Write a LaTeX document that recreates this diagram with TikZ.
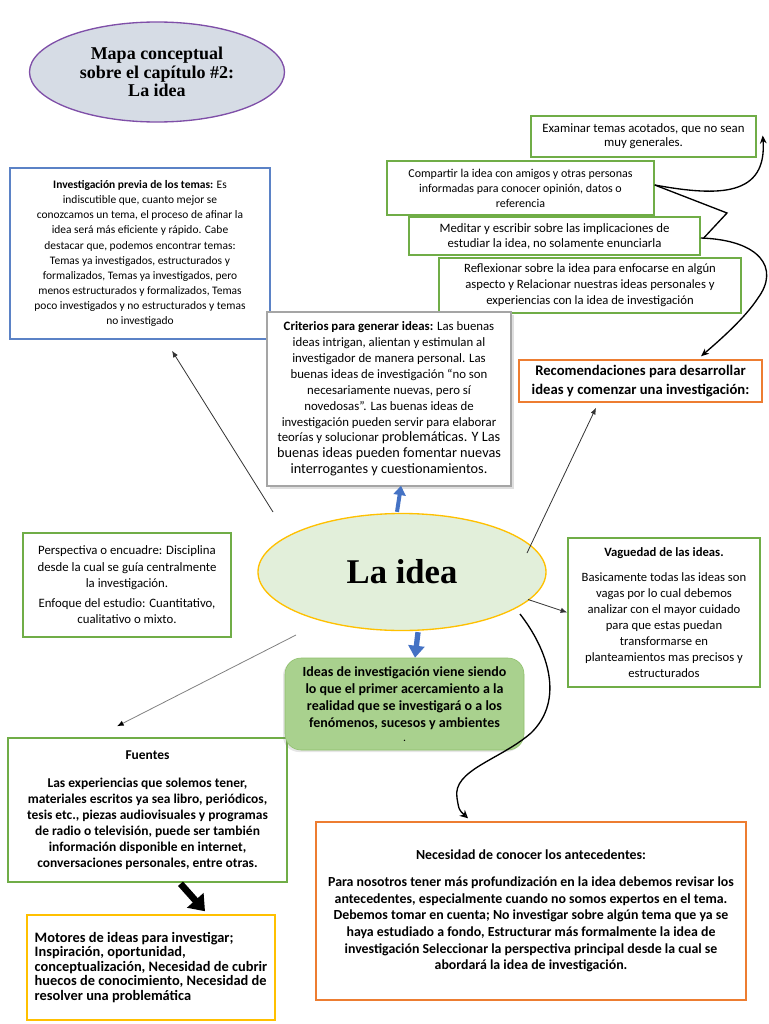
\documentclass[tikz,border=0pt]{standalone}
\usepackage{fontspec}
\setmainfont{Carlito}
\newfontfamily\serifbold{Liberation Serif}
\usepackage{xcolor}
\usetikzlibrary{arrows.meta,positioning,shapes.geometric,shadows}

\definecolor{bordgreen}{HTML}{70AD47}
\definecolor{bordblue}{HTML}{5B82C6}
\definecolor{bordgray}{HTML}{A5A5A5}
\definecolor{bordorange}{HTML}{ED7D31}
\definecolor{bordyellow}{HTML}{FFC000}
\definecolor{titlefill}{HTML}{D6DCE5}
\definecolor{titleedge}{HTML}{7F4FA8}
\definecolor{ideafill}{HTML}{E2EFDA}
\definecolor{leaffill}{HTML}{A9D18E}
\definecolor{leafedge}{HTML}{8DBF6A}
\definecolor{arrowblue}{HTML}{4472C4}

\begin{document}
\begin{tikzpicture}[
  x=0.75pt, y=-0.75pt,
  size/.style 2 args={minimum width=#1*0.75pt, minimum height=#2*0.75pt},
  card/.style={rectangle, draw, line width=1.1pt, fill=white, align=center,
               inner sep=2pt, font=\fontsize{9.5}{11.3}\selectfont},
  greencard/.style={card, draw=bordgreen},
  orangecard/.style={card, draw=bordorange},
  bubble/.style={ellipse, draw, line width=1pt, align=center},
  link/.style={-{Latex[length=5pt,width=4pt]}, line width=0.6pt, black!80},
  curl/.style={-{Stealth[length=6pt,width=5pt]}, line width=1pt},
  bluearrow/.style={-{Triangle[width=9pt,length=7pt]}, line width=3pt, arrowblue},
]
  \useasboundingbox (0,0) rectangle (768,1024);

  % Title and central idea
  \node[bubble, size={255}{100}, fill=titlefill, draw=titleedge,
        font=\serifbold\bfseries\fontsize{13.5}{13.8}\selectfont] (title) at (157,72)
        {Mapa conceptual\\sobre el capítulo \#2:\\La idea};
  \node[bubble, size={288}{117}, fill=ideafill, draw=bordyellow,
        font=\serifbold\bfseries\fontsize{26}{30}\selectfont] (idea) at (402,572) {La idea};

  % Upper left and middle
  \node[card, draw=bordblue, size={260}{171}, font=\fontsize{8.6}{11.3}\selectfont] (prev) at (140,253.5)
    {\textbf{Investigación previa de los temas:} Es\\
     indiscutible que, cuanto mejor se\\
     conozcamos un tema, el proceso de afinar la\\
     idea será más eficiente y rápido. Cabe\\
     destacar que, podemos encontrar temas:\\
     Temas ya investigados, estructurados y\\
     formalizados, Temas ya investigados, pero\\
     menos estructurados y formalizados, Temas\\
     poco investigados y no estructurados y temas\\
     no investigado};

  % Recommendations (top right)
  \node[greencard, size={225}{41}, font=\fontsize{9.6}{10.5}\selectfont] (exam) at (643.5,136.5)
    {Examinar temas acotados, que no sean\\muy generales.};
  \node[greencard, size={267}{54}, font=\fontsize{9}{11.3}\selectfont] (comp) at (520.5,188)
    {Compartir la idea con amigos y otras personas\\informadas para conocer opinión, datos o\\referencia};
  \node[greencard, size={291}{38}, font=\fontsize{9.6}{11.3}\selectfont] (medit) at (554.5,236)
    {Meditar y escribir sobre las implicaciones de\\estudiar la idea, no solamente enunciarla};
  \node[greencard, size={302}{55}, font=\fontsize{9.5}{12}\selectfont] (refl) at (590,285.5)
    {Reflexionar sobre la idea para enfocarse en algún\\aspecto y Relacionar nuestras ideas personales y\\experiencias con la idea de investigación};
  \node[orangecard, size={243}{42}, font=\bfseries\fontsize{11}{14}\selectfont] (recom) at (640.5,381)
    {Recomendaciones para desarrollar\\ideas y comenzar una investigación:};

  \node[card, draw=bordgray, size={244}{174}, font=\fontsize{9.6}{11.9}\selectfont,
        drop shadow={opacity=0.25, shadow xshift=2pt, shadow yshift=-2pt}] (crit) at (389,399)
    {\textbf{Criterios para generar ideas:} Las buenas\\
     ideas intrigan, alientan y estimulan al\\
     investigador de manera personal. Las\\
     buenas ideas de investigación “no son\\
     necesariamente nuevas, pero sí\\
     novedosas”. Las buenas ideas de\\
     investigación pueden servir para elaborar\\
     teorías y solucionar \fontsize{10.7}{12.8}\selectfont problemáticas. Y Las\\
     \fontsize{10.7}{12.8}\selectfont buenas ideas pueden fomentar nuevas\\
     \fontsize{10.7}{12.8}\selectfont interrogantes y cuestionamientos.};

  % Left side
  \node[greencard, size={208}{104}, font=\fontsize{9.6}{12.2}\selectfont] (persp) at (127,585)
    {Perspectiva o encuadre: Disciplina\\desde la cual se guía centralmente\\la investigación.\\[3pt]
     Enfoque del estudio: Cuantitativo,\\cualitativo o mixto.};
  \node[greencard, size={279}{144}, font=\bfseries\fontsize{10.1}{12}\selectfont] (fuentes) at (147.5,810)
    {Fuentes\\[9pt]
     Las experiencias que solemos tener,\\
     materiales escritos ya sea libro, periódicos,\\
     tesis etc., piezas audiovisuales y programas\\
     de radio o televisión, puede ser también\\
     información disponible en internet,\\
     conversaciones personales, entre otras.};
  \node[card, draw=bordyellow, size={248}{105}, align=left,
        font=\bfseries\fontsize{10.8}{10.9}\selectfont] (motores) at (151,967.5)
    {Motores de ideas para investigar;\\
     Inspiración, oportunidad,\\
     conceptualización, Necesidad de cubrir\\
     huecos de conocimiento, Necesidad de\\
     resolver una problemática};

  % Lower middle and right
  \node[rectangle, rounded corners=12pt, draw=leafedge, fill=leaffill, size={239}{92}, align=center,
        font=\bfseries\fontsize{10.5}{12.8}\selectfont,
        drop shadow={opacity=0.2, shadow xshift=-1.5pt, shadow yshift=-1.5pt}] (ideas) at (404.5,704)
    {Ideas de investigación viene siendo\\lo que el primer acercamiento a la\\realidad que se investigará o a los\\fenómenos, sucesos y ambientes\\[-3pt]\fontsize{7}{7}\selectfont .};
  \node[greencard, size={192}{149}, font=\fontsize{9.5}{12}\selectfont] (vag) at (664,612.5)
    {\textbf{Vaguedad de las ideas.}\\[7pt]
     Basicamente todas las ideas son\\
     vagas por lo cual debemos\\
     analizar con el mayor cuidado\\
     para que estas puedan\\
     transformarse en\\
     planteamientos mas precisos y\\
     estructurados};
  \node[orangecard, size={430}{178}, font=\bfseries\fontsize{10.4}{12.5}\selectfont] (antec) at (531,911)
    {Necesidad de conocer los antecedentes:\\[7.5pt]
     Para nosotros tener más profundización en la idea debemos revisar los\\
     antecedentes, especialmente cuando no somos expertos en el tema.\\
     Debemos tomar en cuenta; No investigar sobre algún tema que ya se\\
     haya estudiado a fondo, Estructurar más formalmente la idea de\\
     investigación Seleccionar la perspectiva principal desde la cual se\\
     abordará la idea de investigación.};

  % Connectors from the central idea
  \draw[link] ([shift={(-129,-60)}]idea.center) -- ([shift={(32,11)}]prev.south);
  \draw[bluearrow] ([shift={(-5,-1)}]idea.north) -- ([shift={(12,-1)}]crit.south);
  \draw[bluearrow, line width=4pt, -{Triangle[width=12pt,length=9pt]}]
    ([shift={(16,1)}]idea.south) -- ([shift={(10.5,0)}]ideas.north);
  \draw[link] ([shift={(125,-19)}]idea.center) -- ([shift={(-44.5,5)}]recom.south);
  \draw[link] ([shift={(126,27.5)}]idea.center) -- (vag.west);
  \draw[link, black!50, -{Latex[length=5pt,width=4pt,color=black]}]
    ([shift={(-106,63)}]idea.center) -- ([shift={(-30.5,-11)}]fuentes.north);
  \draw[curl, -{Stealth[open,length=6pt,width=6pt]}] ([shift={(118,42)}]idea.center)
    .. controls (548,650) and (565,700) .. (531,733)
    .. controls (500,760) and (452,770) .. (457,798)
    .. controls (459,810) .. ([shift={(-63,-3)}]antec.north);

  % Sources to motives
  \draw[-{Triangle[width=16pt,length=11pt]}, line width=5pt]
    ([shift={(33,1)}]fuentes.south) -- ([shift={(54,-3)}]motores.north);

  % Recommendation chain
  \draw[curl] ([shift={(0,-3)}]comp.east) .. controls (720,197) and (767,196) .. ([shift={(6,-1)}]exam.east);
  \draw[line width=1pt] ([shift={(0,-3)}]comp.east) -- (727,213) -- ([shift={(3,2)}]medit.east);
  \draw[curl] ([shift={(0,2)}]medit.east) .. controls (760,240) and (780,268) .. (758,298)
    .. controls (745,318) and (720,340) .. ([shift={(60.5,-3)}]recom.north);
\end{tikzpicture}
\end{document}
